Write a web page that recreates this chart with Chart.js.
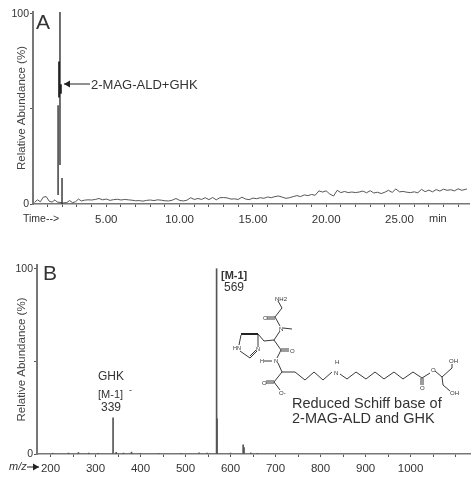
<!DOCTYPE html>
<html>
<head>
<meta charset="utf-8">
<script src="https://cdn.jsdelivr.net/npm/chart.js@4/dist/chart.umd.min.js"></script>
<style>
  body { margin: 0; background: #fff; }
  canvas { position: absolute; left: 0; }
  #chartA { top: 0; }
  #chartB { top: 235px; }
</style>
</head>
<body>
<canvas id="chartA" width="474" height="235"></canvas>
<canvas id="chartB" width="474" height="242"></canvas>
<script>
// Panel A: chromatogram baseline
const baseTimes = [0.1, 0.3, 0.5, 0.7, 0.9, 1.1, 1.3, 1.5, 1.65,
    2.1, 2.3, 2.5, 2.7, 2.9, 3.1, 3.3, 3.5, 3.75, 4.0, 4.25, 4.5, 4.75, 5.0, 5.25, 5.5, 5.75, 6.0, 6.25, 6.5, 6.75,
    7.0, 7.25, 7.5, 7.75, 8.0, 8.25, 8.5, 8.75, 9.0, 9.25, 9.5, 9.75, 10.0, 10.25, 10.5, 10.75, 11.0, 11.25, 11.5, 11.75,
    12.0, 12.25, 12.5, 12.75, 13.0, 13.25, 13.5, 13.75, 14.0, 14.25, 14.5, 14.75, 15.0, 15.25, 15.5, 15.75, 16.0, 16.25, 16.5, 16.75,
    17.0, 17.25, 17.5, 17.75, 18.0, 18.25, 18.5, 18.75, 19.0, 19.25, 19.5, 19.75, 20.0, 20.25, 20.5, 20.75, 21.0, 21.25, 21.5, 21.75,
    22.0, 22.25, 22.5, 22.75, 23.0, 23.25, 23.5, 23.75, 24.0, 24.25, 24.5, 24.75, 25.0, 25.25, 25.5, 25.75, 26.0, 26.25, 26.5, 26.75,
    27.0, 27.25, 27.5, 27.75, 28.0, 28.25, 28.5, 28.75, 29.0, 29.25, 29.6];
const baseValues = [0.8, 2.2, 1.2, 3.6, 3.9, 1.5, 1.0, 2.2, 1.0,
    0.6, 0.8, 1.8, 0.7, 1.2, 2.6, 1.6, 2.0, 2.2, 2.1, 2.4, 2.9, 2.2, 2.6, 1.9, 2.3, 2.5, 2.1, 2.4, 2.2, 2.0,
    1.7, 1.8, 1.5, 1.9, 2.1, 1.8, 2.2, 2.0, 1.7, 1.6, 2.0, 2.9, 1.9, 1.6, 2.0, 3.3, 2.4, 2.9, 2.4, 3.3,
    2.3, 3.4, 2.2, 3.3, 3.4, 3.2, 2.6, 2.7, 2.4, 3.6, 2.6, 2.3, 3.1, 2.8, 3.3, 3.0, 3.7, 3.3, 3.9, 4.2,
    3.6, 3.0, 3.3, 3.9, 4.4, 3.9, 4.8, 4.4, 5.0, 4.6, 6.9, 6.3, 6.9, 5.2, 4.2, 7.2, 6.0, 6.6, 6.0, 6.3,
    6.0, 6.3, 6.8, 5.9, 7.0, 5.8, 6.2, 5.5, 6.2, 7.2, 6.1, 7.9, 6.4, 6.6, 6.2, 6.0, 6.4, 5.9, 7.7, 6.5,
    7.3, 6.4, 7.6, 6.8, 7.8, 7.2, 7.5, 6.9, 8.0, 7.2, 7.9, 6.9, 7.1, 8.8, 7.8, 7.6, 8.4, 7.5, 8.4];
// the main peak is broken into separate strokes, null lifts the pen
const peakTimes = [1.71, 1.71, 1.71, 1.76, 1.76, 1.76, 1.84, 1.84, 1.84, 1.92, 1.92, 1.92, 1.98, 1.98];
const peakValues = [4.7, 52, null, 75, 56, null, 101, 20.5, null, 63, 58, null, 13.7, 0];

// Panel B: mass spectrum sticks
const mzValues = [205, 240, 262, 285, 305, 339, 346, 362, 380, 400, 440, 490, 530, 548, 569, 570, 600, 628, 630, 645, 660];
const mzAbund = [0.4, 0.5, 0.8, 0.5, 0.4, 19.5, 0.9, 0.5, 1.0, 0.4, 0.3, 0.3, 0.6, 0.5, 100, 19, 0.5, 5, 3.5, 0.6, 0.4];

const ticksA = [1, 2, 3, 4, 5, 6, 7, 8, 9, 10, 11, 12, 13, 14, 15, 16, 17, 18, 19, 20, 21, 22, 23, 24, 25, 26, 27, 28, 29];
const ticksB = [200, 250, 300, 350, 400, 450, 500, 550, 600, 650, 700, 750, 800, 850, 900, 950, 1000, 1050, 1100];
const ticksY = [0, 50, 100];

const fontName = '"Liberation Sans", Arial, sans-serif';
const inkColor = '#333';

const textA = [
    { t: 'A', x: 36, y: 23, size: 21 },
    { t: 'Time-->', x: 23, y: 219, size: 10.5 },
    { t: 'min', x: 429, y: 219, size: 11 },
    { t: '2-MAG-ALD+GHK', x: 91, y: 85, size: 13 }
];
const textB = [
    { t: 'B', x: 43, y: 274, size: 21 },
    { t: 'GHK', x: 98, y: 377, size: 12 },
    { t: '[M-1]', x: 98, y: 395, size: 11 },
    { t: '-', x: 129, y: 391, size: 9 },
    { t: '339', x: 101, y: 408, size: 12 },
    { t: '[M-1]', x: 221, y: 276, size: 11, weight: 'bold' },
    { t: '569', x: 224, y: 288, size: 12 },
    { t: 'm/z', x: 9, y: 467, size: 11, style: 'italic' },
    { t: 'Reduced Schiff base of', x: 292, y: 404, size: 14.5 },
    { t: '2-MAG-ALD and GHK', x: 292, y: 419, size: 14.5 },
    { t: 'NH2', x: 275, y: 299, size: 6 },
    { t: 'O', x: 263, y: 318, size: 6 },
    { t: 'N', x: 279, y: 329, size: 6 },
    { t: 'HN', x: 233, y: 348, size: 5.5 },
    { t: 'N', x: 256, y: 349, size: 5.5 },
    { t: 'O', x: 290, y: 351, size: 6 },
    { t: 'N', x: 274, y: 361, size: 6 },
    { t: 'H', x: 260, y: 361, size: 5.5 },
    { t: 'O', x: 262, y: 383, size: 6 },
    { t: 'O-', x: 279, y: 393, size: 6 },
    { t: 'H', x: 335, y: 362, size: 6 },
    { t: 'N', x: 334, y: 373, size: 6 },
    { t: 'O', x: 420, y: 388, size: 6 },
    { t: 'O', x: 431, y: 370, size: 6 },
    { t: 'OH', x: 449, y: 361, size: 6 },
    { t: 'OH', x: 450, y: 393, size: 6 }
];
// molecule sketch, plain strokes in page pixels
const bondsB = [
    [[278, 301], [282, 308], [275, 317], [280, 326]],
    [[275, 317], [267, 317]], [[275, 319], [267, 319]],
    [[283, 328], [292, 329]],
    [[280, 331], [274, 340], [264, 341], [258, 334]],
    [[241, 335], [239, 345]],
    [[240, 351], [250, 358], [257, 351]], [[250, 356], [256, 350]],
    [[258, 347], [258, 334]],
    [[274, 340], [281, 350], [277, 358]],
    [[281, 349], [289, 349]], [[281, 351], [289, 351]],
    [[264, 361], [272, 361]],
    [[278, 363], [282, 372], [274, 382], [280, 390]],
    [[274, 381], [266, 381]], [[274, 383], [266, 383]],
    [[282, 372], [295, 372], [305, 380], [314, 372], [323, 380], [332, 372]],
    [[340, 374], [347, 379], [356, 372], [366, 379], [375, 372], [384, 379], [394, 372], [403, 379], [413, 372], [422, 378], [430, 373]],
    [[421, 378], [421, 385]], [[423, 378], [423, 385]],
    [[435, 371], [442, 377], [452, 368], [452, 364]],
    [[442, 377], [443, 385], [450, 391]]
];
const boldBondsB = [[[258, 334], [241, 334]]];

function drawText(ctx, items, top) {
    ctx.fillStyle = inkColor;
    ctx.textBaseline = 'middle';
    ctx.textAlign = 'left';
    items.forEach(item => {
        ctx.font = `${item.style || ''} ${item.weight || ''} ${item.size}px ${fontName}`;
        ctx.fillText(item.t, item.x, item.y - top);
    });
}

function drawStrokes(ctx, strokes, top, width) {
    ctx.strokeStyle = '#222';
    ctx.lineWidth = width;
    strokes.forEach(points => {
        ctx.beginPath();
        points.forEach((p, i) => {
            if (i === 0) ctx.moveTo(p[0], p[1] - top);
            else ctx.lineTo(p[0], p[1] - top);
        });
        ctx.stroke();
    });
}

// size > 0 points the head left, size < 0 points it right
function arrow(ctx, x1, x2, y, size) {
    ctx.strokeStyle = '#222';
    ctx.fillStyle = '#222';
    ctx.lineWidth = 1;
    ctx.beginPath();
    ctx.moveTo(x1, y);
    ctx.lineTo(x2, y);
    ctx.stroke();
    ctx.beginPath();
    ctx.moveTo(x2, y);
    ctx.lineTo(x2 + size, y - Math.abs(size) * 0.6);
    ctx.lineTo(x2 + size, y + Math.abs(size) * 0.6);
    ctx.fill();
}

function axisOptions(width, height, ticks, label, labelPad) {
    return {
        x: {
            type: 'linear',
            offset: false,
            afterFit: s => { s.height = height; },
            afterBuildTicks: s => { s.ticks = ticks.map(v => ({ value: v })); },
            grid: { offset: false, drawOnChartArea: false, tickLength: 3, tickColor: '#555' },
            border: { color: '#777', width: 1.5 },
            ticks: {
                autoSkip: false, maxRotation: 0, padding: labelPad, color: inkColor,
                font: { family: fontName, size: 11.5 },
                callback: label
            }
        },
        y: {
            min: 0,
            afterFit: s => { s.width = width; },
            afterBuildTicks: s => { s.ticks = ticksY.map(v => ({ value: v })); },
            grid: { drawOnChartArea: false, tickLength: 3, tickColor: '#555' },
            border: { color: '#777', width: 2 },
            ticks: {
                padding: 1, color: inkColor,
                font: { family: fontName, size: 10.5 },
                callback: v => (v === 50 ? '' : v)
            },
            title: {
                display: true, text: 'Relative Abundance (%)', color: '#444',
                font: { family: fontName, size: 11.5 },
                padding: { top: 15, bottom: 0 }
            }
        }
    };
}

const scalesA = axisOptions(33, 31, ticksA, v => (v % 5 === 0 ? v.toFixed(2) : ''), 6);
scalesA.x.min = 0;
scalesA.x.max = 29.74;
scalesA.y.max = 101;

new Chart(document.getElementById('chartA'), {
    type: 'scatter',
    data: {
        datasets: [
            {
                data: baseTimes.map((t, i) => ({ x: t, y: baseValues[i] })),
                showLine: true, borderColor: '#444', borderWidth: 0.9, pointRadius: 0
            },
            {
                data: peakTimes.map((t, i) => ({ x: t, y: peakValues[i] })),
                showLine: true, spanGaps: false, borderColor: '#222', borderWidth: 1.3, pointRadius: 0
            }
        ]
    },
    options: {
        responsive: false,
        animation: false,
        layout: { padding: { top: 12, right: 5, left: 0, bottom: 0 } },
        plugins: { legend: { display: false }, tooltip: { enabled: false } },
        scales: scalesA
    },
    plugins: [{
        id: 'notesA',
        afterDraw(chart) {
            const ctx = chart.ctx;
            ctx.save();
            drawText(ctx, textA, 0);
            arrow(ctx, 90, 64, 84, 6);
            ctx.restore();
        }
    }]
});

const scalesB = axisOptions(37, 23, ticksB, v => (v % 100 === 0 && v <= 1000 ? v : ''), 5);
scalesB.x.min = 170;
scalesB.x.max = 1132;
scalesB.y.max = 102;

new Chart(document.getElementById('chartB'), {
    type: 'bar',
    data: {
        datasets: [{
            data: mzValues.map((m, i) => ({ x: m, y: mzAbund[i] })),
            backgroundColor: '#555',
            barThickness: 1
        }]
    },
    options: {
        responsive: false,
        animation: false,
        layout: { padding: { top: 30, right: 4, left: 0, bottom: 0 } },
        plugins: { legend: { display: false }, tooltip: { enabled: false } },
        scales: scalesB
    },
    plugins: [{
        id: 'notesB',
        afterDraw(chart) {
            const ctx = chart.ctx;
            ctx.save();
            drawText(ctx, textB, 235);
            drawStrokes(ctx, bondsB, 235, 0.9);
            drawStrokes(ctx, boldBondsB, 235, 2);
            arrow(ctx, 27, 39, 467 - 235, -6);
            ctx.restore();
        }
    }]
});
</script>
</body>
</html>
